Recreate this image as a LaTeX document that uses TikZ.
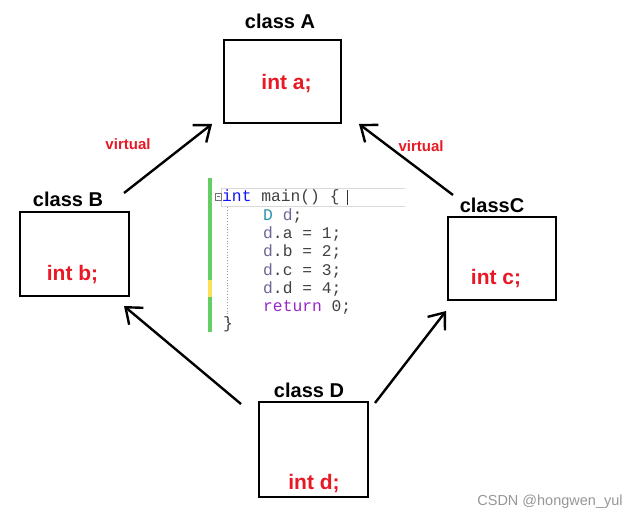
\documentclass[tikz,border=0pt]{standalone}
\usepackage{fontspec}
\setmainfont{Liberation Sans}
\newfontfamily\codefont{Liberation Mono}
\usetikzlibrary{positioning,arrows.meta}
\definecolor{lblred}{RGB}{232,24,36}
\definecolor{kwblue}{RGB}{20,20,250}
\definecolor{typeteal}{RGB}{43,145,175}
\definecolor{varpurple}{RGB}{110,100,150}
\definecolor{retpurple}{RGB}{150,40,200}
\definecolor{barg}{RGB}{100,205,100}
\definecolor{bary}{RGB}{250,225,90}
\definecolor{wmgray}{RGB}{150,150,150}

\begin{document}
\begin{tikzpicture}[x=1pt,y=-1pt]
\tikzstyle{cls}=[rectangle, draw=black, line width=2.6pt, inner sep=0pt]
\tikzstyle{title}=[font=\fontsize{20}{24}\selectfont\bfseries, inner sep=0pt, anchor=base]
\tikzstyle{member}=[font=\fontsize{21}{24}\selectfont\bfseries, text=lblred, inner sep=0pt, anchor=base]
\tikzstyle{virt}=[font=\fontsize{15}{18}\selectfont\bfseries, text=lblred, inner sep=0pt, anchor=base]
\tikzstyle{connect}=[-{Straight Barb[length=14pt,width=22pt]}, line width=2.4pt]
\tikzstyle{code}=[font=\codefont\fontsize{16.3}{18}\selectfont, text=black!75, inner sep=0pt, anchor=base west]
\useasboundingbox (0,0) rectangle (644,521);

% class boxes
\node[cls, minimum width=117pt, minimum height=83pt] (boxA) at (282.5,81.5) {};
\node[cls, minimum width=109pt, minimum height=84pt] (boxB) at (74.5,254) {};
\node[cls, minimum width=108pt, minimum height=83pt] (boxC) at (502,258.5) {};
\node[cls, minimum width=109pt, minimum height=95pt] (boxD) at (313.5,449.5) {};

\node[title] (nameA) at (280,28.5) {class A};
\node[title] (nameB) at (68,207) {class B};
\node[title] (nameC) at (492,212) {classC};
\node[title] (nameD) at (309,397) {class D};

\node[member] (memA) at (286.5,90) {int a;};
\node[member] (memB) at (72.5,280) {int b;};
\node[member] (memC) at (496,284) {int c;};
\node[member] (memD) at (314,489) {int d;};

\node[virt] (virtB) at (128,150) {virtual};
\node[virt] (virtC) at (421,152) {virtual};

% arrow ends
\coordinate (fromB) at (124,193);
\coordinate (toA1) at (212,124);
\coordinate (fromC) at (453,195);
\coordinate (toA2) at (359,124);
\coordinate (fromD1) at (241,404);
\coordinate (toB) at (124,306);
\coordinate (fromD2) at (375,403);
\coordinate (toC) at (446,311);
\path (fromB) edge [connect] (toA1);
\path (fromC) edge [connect] (toA2);
\path (fromD1) edge [connect] (toB);
\path (fromD2) edge [connect] (toC);

% code snippet
\fill[barg] (208,178) rectangle (212,332);
\fill[bary] (208,280) rectangle (212,297);
\draw[black!15, line width=0.8pt] (405,188) -- (221.5,188) -- (221.5,206.5) -- (405,206.5);
\draw[black!55, line width=0.6pt] (215,193) rectangle (221,200);
\draw[black!55, line width=0.6pt] (216.5,196.5) -- (219.5,196.5);
\draw[black!40, dotted, line width=0.8pt] (227,207) -- (227,322);
\draw[black!80, line width=0.8pt] (347,190) -- (347,205);
\node[code] (ln1) at (222,201.7) {\textcolor{kwblue}{int} main() \{};
\node[code] (ln2) at (263,220) {\textcolor{typeteal}{D} \textcolor{varpurple}{d};};
\node[code] (ln3) at (263,238.3) {\textcolor{varpurple}{d}.a = 1;};
\node[code] (ln4) at (263,256.7) {\textcolor{varpurple}{d}.b = 2;};
\node[code] (ln5) at (263,275) {\textcolor{varpurple}{d}.c = 3;};
\node[code] (ln6) at (263,293.3) {\textcolor{varpurple}{d}.d = 4;};
\node[code] (ln7) at (263,311) {\textcolor{retpurple}{return} 0;};
\node[code] (ln8) at (223,328) {\}};

\node[font=\fontsize{14.5}{16}\selectfont, text=wmgray, inner sep=0pt, anchor=base] (mark) at (550,505) {CSDN @hongwen\_yul};
\end{tikzpicture}
\end{document}
